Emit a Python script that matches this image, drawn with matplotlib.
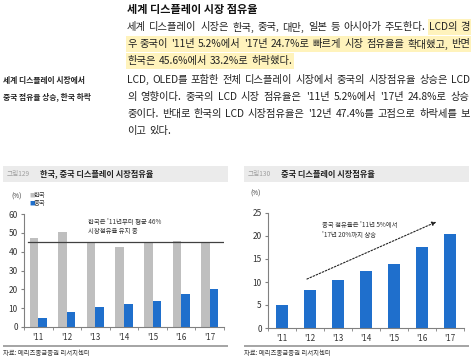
import matplotlib
matplotlib.use("Agg")
import matplotlib.pyplot as plt
import matplotlib.patches as patches
import numpy as np

plt.rcParams["font.family"] = ["Noto Sans CJK KR", "DejaVu Sans"]

# 데이터
years = ["'11", "'12", "'13", "'14", "'15", "'16", "'17"]
korea_share = [47.5, 50.5, 45.0, 42.5, 45.0, 45.8, 45.0]
china_share = [5.0, 8.0, 10.5, 12.3, 14.0, 17.5, 20.3]
china_share_r = [5.1, 8.2, 10.5, 12.5, 14.0, 17.6, 20.5]
korea_avg = 45

para1 = [
    "세계 디스플레이 시장은 한국, 중국, 대만, 일본 등 아시아가 주도한다. LCD의 경",
    "우 중국이 '11년 5.2%에서 '17년 24.7%로 빠르게 시장 점유율을 확대했고, 반면",
    "한국은 45.6%에서 33.2%로 하락했다.",
]
para2 = [
    "LCD, OLED를 포함한 전체 디스플레이 시장에서 중국의 시장점유율 상승은 LCD",
    "의 영향이다. 중국의 LCD 시장 점유율은 '11년 5.2%에서 '17년 24.8%로 상승",
    "중이다. 반대로 한국의 LCD 시장점유율은 '12년 47.4%를 고점으로 하락세를 보",
    "이고 있다.",
]

W, H = 474, 361
GRAY = "#BFBFBF"
BLUE = "#1F6FCC"
TXT = "#333333"
BODY = 7.4

fig = plt.figure(figsize=(W / 100, H / 100), dpi=100)
renderer = fig.canvas.get_renderer()


def px(x, y):
    return x / W, 1 - y / H


def justify(x0, x1, y, line, size, last=False):
    words = line.split(" ")
    objs = [fig.text(*px(x0, y), w, fontsize=size, va="center", color="#222222")
            for w in words]
    widths = [o.get_window_extent(renderer).width for o in objs]
    if last or len(words) == 1:
        gap = size * 0.4
    else:
        gap = (x1 - x0 - sum(widths)) / (len(words) - 1)
    pos = []
    x = x0
    for o, w in zip(objs, widths):
        o.set_position(px(x, y))
        pos.append((x, w))
        x += w + gap
    return pos


def band(x0, x1, y, h=15):
    fig.patches.append(patches.Rectangle(
        px(x0, y + h / 2), (x1 - x0) / W, h / H,
        transform=fig.transFigure, facecolor="#FFF3BC", edgecolor="none", zorder=0.5))


# 본문
fig.text(*px(127, 10), "세계 디스플레이 시장 점유율", fontsize=8.0, fontweight="bold",
         va="center", color="#111111")
ys1 = [27, 44, 61]
for i, (line, y) in enumerate(zip(para1, ys1)):
    pos = justify(127, 470, y, line, BODY, last=(i == len(para1) - 1))
    if i == 0:
        band(pos[-2][0] - 1, 471, y)
    elif i == 1:
        band(126, 471, y)
    else:
        band(126, pos[-1][0] + pos[-1][1] + 1, y)

ys2 = [80, 97, 114, 131]
for i, (line, y) in enumerate(zip(para2, ys2)):
    justify(127, 470, y, line, BODY, last=(i == len(para2) - 1))

fig.text(*px(3, 80), "세계 디스플레이 시장에서", fontsize=5.6, fontweight="bold",
         va="center", color="#222222")
fig.text(*px(3, 97), "중국 점유율 상승, 한국 하락", fontsize=5.6, fontweight="bold",
         va="center", color="#222222")

# 차트 헤더와 하단
for x0, x1, num, title in [(3, 228, "그림129", "한국, 중국 디스플레이 시장점유율"),
                           (244, 469, "그림130", "중국 디스플레이 시장점유율")]:
    fig.patches.append(patches.Rectangle(
        px(x0, 182), (x1 - x0) / W, 16 / H, transform=fig.transFigure,
        facecolor="#EBEBEB", edgecolor="none", zorder=0.5))
    fig.text(*px(x0 + 4, 174), num, fontsize=4.8, color="#A0A0A0", va="center")
    fig.text(*px(x0 + 37, 174), title, fontsize=5.9, fontweight="bold",
             color="#222222", va="center")
    fig.patches.append(patches.Rectangle(
        px(x0, 347), (x1 - x0) / W, 2 / H, transform=fig.transFigure,
        facecolor="#A6A6A6", edgecolor="none", zorder=0.5))
    fig.text(*px(x0, 353), "자료: 메리츠종금증권 리서치센터", fontsize=4.6,
             color=TXT, va="center")


def style_axes(ax, ymax, step):
    x = np.arange(len(years))
    ax.set_xlim(-0.5, len(years) - 0.5)
    ax.set_ylim(0, ymax)
    ax.set_yticks(np.arange(0, ymax + 1, step))
    ax.set_xticks(x)
    ax.set_xticklabels(years)
    ax.set_xticks(np.arange(-0.5, len(years)), minor=True)
    ax.tick_params(axis="x", which="major", length=0, pad=4, labelsize=5.8, labelcolor=TXT)
    ax.tick_params(axis="x", which="minor", length=2.5, color="#808080")
    ax.tick_params(axis="y", length=2.5, color="#808080", pad=2, labelsize=6, labelcolor=TXT)
    for s in ["top", "right"]:
        ax.spines[s].set_visible(False)
    for s in ["left", "bottom"]:
        ax.spines[s].set_color("#808080")
        ax.spines[s].set_linewidth(0.8)
    ax.patch.set_alpha(0)


# 그림129
ax1 = fig.add_axes([24 / W, 1 - 327 / H, 200 / W, 113 / H])
x = np.arange(len(years))
ax1.bar(x - 0.15, korea_share, width=0.3, color=GRAY)
ax1.bar(x + 0.15, china_share, width=0.3, color=BLUE)
ax1.plot([-0.35, 6.5], [korea_avg, korea_avg], color="#404040", lw=0.9)
style_axes(ax1, 60, 10)
ax1.text(1.75, 55.5, "한국은 '11년부터 평균 46%", fontsize=4.6, color=TXT, va="center")
ax1.text(1.75, 51.0, "시장점유율 유지 중", fontsize=4.6, color=TXT, va="center")
fig.text(*px(11, 197), "(%)", fontsize=4.6, color=TXT, va="center")
fig.text(*px(29, 195), "■", fontsize=4, color=GRAY, va="center")
fig.text(*px(34, 195), "한국", fontsize=4.6, color=TXT, va="center")
fig.text(*px(29, 203), "■", fontsize=4, color=BLUE, va="center")
fig.text(*px(34, 203), "중국", fontsize=4.6, color=TXT, va="center")

# 그림130
ax2 = fig.add_axes([268 / W, 1 - 328 / H, 196 / W, 115 / H])
ax2.bar(x, china_share_r, width=0.42, color=BLUE)
style_axes(ax2, 25, 5)
ax2.annotate("", xy=(5.6, 23.3), xytext=(0.8, 10.4),
             arrowprops=dict(arrowstyle="-|>", linestyle=(0, (1.5, 1.5)),
                             color="#222222", lw=0.8, mutation_scale=6))
ax2.text(1.43, 22.4, "중국 점유율은 '11년 5%에서", fontsize=4.6, color=TXT, va="center")
ax2.text(1.43, 20.3, "'17년 20%까지 상승", fontsize=4.6, color=TXT, va="center")
fig.text(*px(250, 194), "(%)", fontsize=4.6, color=TXT, va="center")

fig.savefig("out.png", dpi=100)
